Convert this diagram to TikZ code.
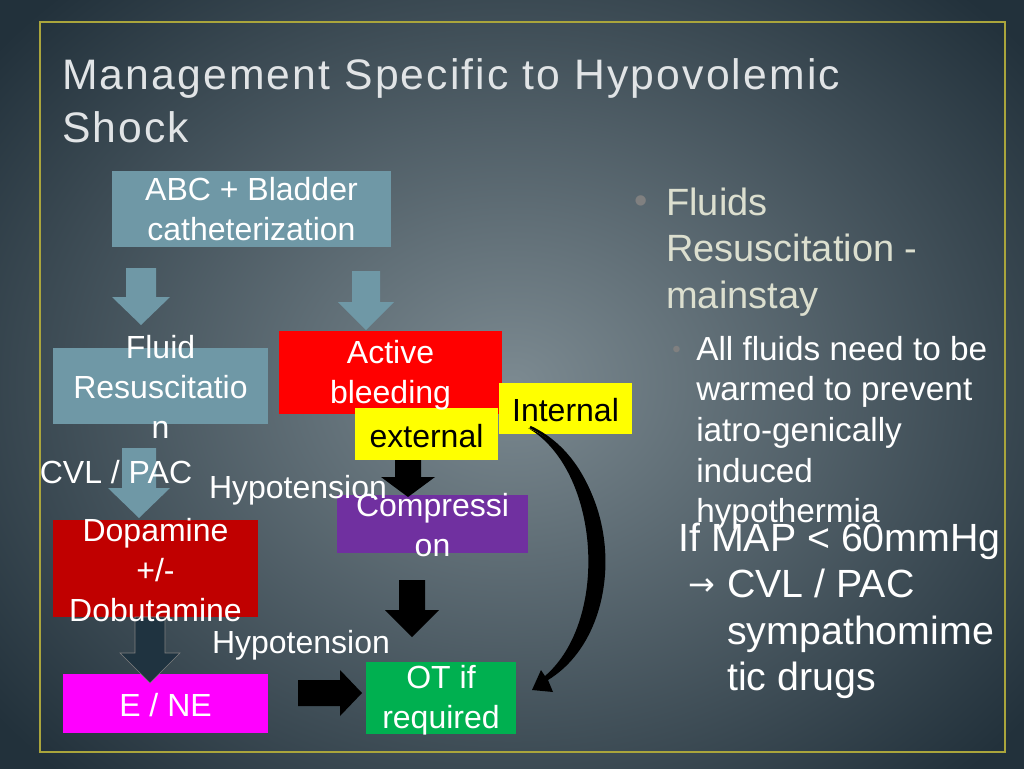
\documentclass[tikz,border=0pt]{standalone}
\usepackage{fontspec}
\setmainfont{Liberation Sans}
\newfontfamily\titlefont[LetterSpace=5]{Liberation Sans}
\newfontfamily\symfont{DejaVu Sans}
\usetikzlibrary{arrows.meta}
\definecolor{steel}{HTML}{6F98A6}
\definecolor{bgout}{HTML}{22313B}
\definecolor{bgin}{HTML}{7C8A91}
\definecolor{txtl}{HTML}{DCDFCF}
\definecolor{dkarrow}{HTML}{1F3340}
\definecolor{borderc}{HTML}{AAA53C}
\definecolor{titlec}{HTML}{E1E4E6}
\definecolor{purp}{HTML}{7030A0}
\definecolor{dred}{HTML}{C00000}
\definecolor{grn}{HTML}{00B050}
\definecolor{mag}{HTML}{FF00FF}
\definecolor{ylw}{HTML}{FFFF00}
\definecolor{rd}{HTML}{FF0000}
\newcommand\DnArrow[7]{\fill[#7] (#1-#4,#2) -- (#1+#4,#2) -- (#1+#4,#3-#6) -- (#1+#5,#3-#6) -- (#1,#3) -- (#1-#5,#3-#6) -- (#1-#4,#3-#6) -- cycle;}
\begin{document}
\begin{tikzpicture}[x=0.75pt,y=-0.75pt,
  box/.style={rectangle,inner sep=0pt,draw=none},
  btxt/.style={text=white,font=\fontsize{24}{30}\selectfont,align=center,inner sep=0pt},
  ytxt/.style={text=black,font=\fontsize{24}{30}\selectfont,inner sep=0pt},
  rtxt/.style={anchor=west,inner sep=0pt,font=\fontsize{28.5}{35}\selectfont}]
\useasboundingbox (0,0) rectangle (1024,768);
\shade[inner color=bgin,outer color=bgout] (-150,-150) rectangle (1174,918);
\draw[borderc,line width=1pt] (40,22) rectangle (1005,752);
% title
\node[anchor=west,inner sep=0pt,text=titlec,align=left,
  font=\titlefont\fontsize{32}{39.5}\selectfont] (title) at (62,101)
  {Management Specific to Hypovolemic\\Shock};
% boxes
\node[box,fill=steel,minimum width=209.25pt,minimum height=57pt] (abc) at (251.5,209) {};
\node[box,fill=steel,minimum width=161.25pt,minimum height=57pt] (fluid) at (160.5,386) {};
\node[box,fill=rd,minimum width=167.25pt,minimum height=62.25pt] (active) at (390.5,372.5) {};
\node[box,fill=ylw,minimum width=99.75pt,minimum height=38.25pt] (internal) at (565.5,408.5) {};
\node[box,fill=ylw,minimum width=107.25pt,minimum height=39pt] (external) at (426.5,434) {};
\node[box,fill=purp,minimum width=143.25pt,minimum height=43.5pt] (comp) at (432.5,524) {};
\node[box,fill=dred,minimum width=153.75pt,minimum height=72.75pt] (dopa) at (155.5,568.5) {};
\node[box,fill=mag,minimum width=153.75pt,minimum height=44.25pt] (ene) at (165.5,703.5) {};
\node[box,fill=grn,minimum width=112.5pt,minimum height=54pt] (ot) at (441,698) {};
% block arrows
\DnArrow{141}{268}{325}{15}{29}{28}{steel}
\DnArrow{366}{271}{330}{14}{28}{28}{steel}
\DnArrow{139}{448}{518}{17}{31}{30}{steel}
\DnArrow{408}{460}{497}{13}{27}{20}{black}
\DnArrow{412}{580}{637}{13}{27}{27}{black}
\DnArrow{150}{617}{683}{15}{30}{30}{dkarrow,draw=gray}
\fill[black] (298,680) -- (340,680) -- (340,670) -- (362,693) -- (340,716) -- (340,706) -- (298,706) -- cycle;
% curved arrow
\fill[black] (528,428) .. controls (625,470) and (630,630) .. (548,680) -- (553,692) -- (532,690) -- (541,670) -- (545,676) .. controls (610,620) and (600,470) .. (528,428) -- cycle;
\draw[black,line width=2pt] (530,427) .. controls (622,470) and (625,630) .. (546,679);
% texts
\node[btxt] at (251.5,209) {ABC + Bladder\\catheterization};
\node[btxt] at (160.5,387) {Fluid\\Resuscitatio\\n};
\node[btxt] at (390.5,375) {Active\\bleeding};
\node[ytxt] at (565.5,410) {Internal};
\node[ytxt] at (426.5,436) {external};
\node[btxt] at (432.5,525.5) {Compressi\\on};
\node[btxt] at (155.5,570.5) {Dopamine\\+/-\\Dobutamine};
\node[btxt] at (165.5,705) {E / NE};
\node[btxt] at (441,700) {OT if\\required};
\node[btxt] (cvl) at (116,472) {CVL / PAC};
\node[btxt] (hyp1) at (298,490) {Hypotension};
\node[btxt] (hyp2) at (301,645) {Hypotension};
% right text
\node[rtxt,text=gray] at (634,205) {•};
\node[rtxt,text=txtl,align=left] (fl) at (666,252) {Fluids\\Resuscitation -\\mainstay};
\node[anchor=west,inner sep=0pt,text=gray,font=\fontsize{18}{20}\selectfont] at (672,352) {•};
\node[anchor=west,inner sep=0pt,text=white,align=left,font=\fontsize{25}{30.5}\selectfont] (sub) at (696,433) {All fluids need to be\\warmed to prevent\\iatro-genically\\induced\\hypothermia};
\node[rtxt,text=white,font=\fontsize{29.5}{34}\selectfont] at (678,541) {If MAP < 60mmHg};
\node[rtxt,text=white,font=\symfont\fontsize{24}{34}\selectfont] at (688,587) {→};
\node[rtxt,text=white,align=left,font=\fontsize{29.5}{35}\selectfont] at (727,634) {CVL / PAC\\sympathomime\\tic drugs};
\end{tikzpicture}
\end{document}
